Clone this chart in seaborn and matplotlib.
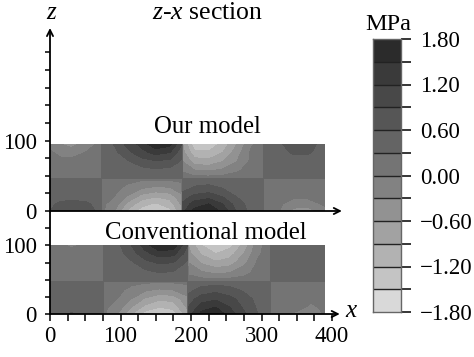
"""
Stress in the z-x section, our model against the conventional model,
drawn as two banded contour maps that share a 12 band grey scale.
"""

import numpy as np
import matplotlib
matplotlib.use("Agg")
import matplotlib.pyplot as plt
import seaborn as sns

from matplotlib.colors import ListedColormap


FIG_W = 474
FIG_H = 357

# band limits and greys, from -1.80 MPa (light) up to 1.80 MPa (dark)
BAND_LIMITS = [-1.8, -1.5, -1.2, -0.9, -0.6, -0.3, 0.0, 0.3, 0.6, 0.9, 1.2, 1.5, 1.8]
BAND_GREYS = ["#d9d9d9", "#c4c4c4", "#b2b2b2", "#a2a2a2", "#929292", "#828282",
              "#747474", "#646464", "#565656", "#484848", "#3a3a3a", "#2b2b2b"]
SCALE_LABELS = ["1.80", "", "1.20", "", "0.60", "", "0.00", "", "\u22120.60", "",
                "\u22121.20", "", "\u22121.80"]

X_TICK_LABELS = ["0", "", "", "", "100", "", "", "", "200", "", "", "", "300", "", "", "", "400"]

# our model, rows run from the top of the section downwards
OUR_X = [0, 15, 30, 50, 73, 74, 90, 110, 130, 150, 170, 187, 188,
         205, 225, 245, 265, 285, 302, 303, 325, 345, 365, 390]
OUR_Z = [95, 83, 70, 58, 46, 45, 32, 20, 10, 0]
OUR_STRESS = [
    [-0.1, -0.3, -0.4, -0.2, 0.1, 0.45, 0.6, 1.0, 1.3, 1.75, 1.6, 0.9, -0.6, -1.45, -1.45, -1.1, -0.6, -0.05, 0.15, 0.45, 0.55, 0.75, 0.75, 0.45],
    [0.05, -0.1, -0.15, 0.0, 0.1, 0.45, 0.5, 0.8, 1.1, 1.3, 1.2, 0.7, -0.5, -1.1, -1.15, -0.9, -0.45, 0.05, 0.15, 0.45, 0.45, 0.65, 0.65, 0.45],
    [0.1, 0.1, 0.1, 0.1, 0.1, 0.45, 0.45, 0.55, 0.75, 0.85, 0.8, 0.55, -0.3, -0.75, -0.8, -0.6, -0.3, 0.05, 0.15, 0.45, 0.45, 0.45, 0.45, 0.45],
    [0.1, 0.1, 0.1, 0.1, 0.1, 0.45, 0.45, 0.45, 0.5, 0.55, 0.5, 0.45, -0.05, -0.3, -0.35, -0.25, -0.05, 0.12, 0.15, 0.45, 0.45, 0.45, 0.45, 0.45],
    [0.1, 0.1, 0.1, 0.1, 0.1, 0.45, 0.45, 0.45, 0.45, 0.45, 0.45, 0.45, 0.15, 0.15, 0.15, 0.15, 0.15, 0.15, 0.15, 0.45, 0.45, 0.45, 0.45, 0.45],
    [0.5, 0.5, 0.5, 0.5, 0.5, 0.05, 0.05, 0.05, 0.05, 0.05, 0.05, 0.05, 0.45, 0.45, 0.45, 0.45, 0.45, 0.45, 0.45, 0.05, 0.05, 0.05, 0.05, 0.05],
    [0.5, 0.5, 0.5, 0.5, 0.5, 0.05, 0.05, -0.05, -0.3, -0.4, -0.35, -0.1, 0.5, 0.65, 0.7, 0.6, 0.5, 0.45, 0.45, 0.05, 0.05, 0.05, 0.05, 0.05],
    [0.5, 0.5, 0.5, 0.5, 0.5, 0.05, 0.0, -0.35, -0.75, -0.9, -0.8, -0.4, 0.75, 1.0, 1.1, 0.9, 0.6, 0.45, 0.45, 0.05, 0.05, 0.05, 0.05, 0.05],
    [0.55, 0.65, 0.7, 0.65, 0.5, 0.05, -0.1, -0.7, -1.1, -1.25, -1.05, -0.55, 0.95, 1.35, 1.5, 1.2, 0.75, 0.47, 0.45, 0.05, 0.05, -0.15, -0.15, 0.05],
    [0.6, 0.75, 0.85, 0.75, 0.5, 0.05, -0.25, -0.95, -1.35, -1.6, -1.3, -0.7, 1.1, 1.6, 1.8, 1.4, 0.85, 0.5, 0.45, 0.05, 0.0, -0.4, -0.5, -0.1],
]

# conventional model, same layout
CONV_X = [0, 15, 30, 50, 75, 76, 95, 115, 135, 155, 175, 195, 196,
          215, 235, 255, 275, 295, 312, 313, 335, 355, 370, 390]
CONV_Z = [100, 88, 75, 60, 48, 47, 35, 22, 10, 0]
CONV_STRESS = [
    [0.1, 0.05, -0.05, 0.05, 0.1, 0.4, 0.5, 0.9, 1.35, 1.8, 1.7, 0.9, -0.6, -1.2, -1.5, -1.3, -0.8, -0.1, 0.15, 0.45, 0.45, 0.5, 0.55, 0.45],
    [0.1, 0.1, 0.1, 0.1, 0.1, 0.4, 0.45, 0.75, 1.1, 1.35, 1.3, 0.75, -0.5, -0.95, -1.2, -1.05, -0.6, -0.05, 0.15, 0.45, 0.45, 0.45, 0.45, 0.45],
    [0.1, 0.1, 0.1, 0.1, 0.1, 0.4, 0.4, 0.55, 0.8, 0.95, 0.9, 0.55, -0.3, -0.65, -0.85, -0.75, -0.4, 0.05, 0.15, 0.45, 0.45, 0.45, 0.45, 0.45],
    [0.1, 0.1, 0.1, 0.1, 0.1, 0.4, 0.4, 0.4, 0.5, 0.6, 0.55, 0.4, -0.05, -0.25, -0.35, -0.3, -0.1, 0.1, 0.15, 0.45, 0.45, 0.45, 0.45, 0.45],
    [0.1, 0.1, 0.1, 0.1, 0.1, 0.4, 0.4, 0.4, 0.4, 0.4, 0.4, 0.4, 0.15, 0.15, 0.15, 0.15, 0.15, 0.15, 0.15, 0.45, 0.45, 0.45, 0.45, 0.45],
    [0.4, 0.4, 0.4, 0.4, 0.4, 0.05, 0.05, 0.05, 0.05, 0.05, 0.05, 0.05, 0.45, 0.45, 0.45, 0.45, 0.45, 0.45, 0.45, 0.05, 0.05, 0.05, 0.05, 0.05],
    [0.4, 0.4, 0.4, 0.4, 0.4, 0.05, 0.05, -0.05, -0.25, -0.35, -0.3, -0.1, 0.5, 0.7, 0.8, 0.7, 0.55, 0.47, 0.45, 0.05, 0.05, 0.05, 0.05, 0.05],
    [0.4, 0.4, 0.4, 0.4, 0.4, 0.05, 0.0, -0.3, -0.65, -0.85, -0.8, -0.4, 0.75, 1.05, 1.15, 1.0, 0.75, 0.5, 0.45, 0.05, 0.05, 0.05, 0.05, 0.05],
    [0.4, 0.4, 0.45, 0.4, 0.4, 0.05, -0.1, -0.6, -1.0, -1.2, -1.1, -0.55, 0.9, 1.35, 1.5, 1.2, 0.85, 0.55, 0.45, 0.05, 0.05, 0.05, -0.05, 0.05],
    [0.4, 0.45, 0.65, 0.45, 0.4, 0.05, -0.3, -0.9, -1.35, -1.6, -1.4, -0.7, 1.05, 1.6, 1.75, 1.35, 0.95, 0.6, 0.45, 0.05, 0.05, -0.1, -0.3, 0.05],
]


def pixel_axes(fig, left, top, right, bottom):
    return fig.add_axes([left / FIG_W, 1 - bottom / FIG_H,
                         (right - left) / FIG_W, (bottom - top) / FIG_H])


def pixel_text(fig, x, y, label, **kwargs):
    fig.text(x / FIG_W, 1 - y / FIG_H, label, ha="center", va="center", color="black", **kwargs)


def draw_section(ax, xs, zs, stress):
    ax.contourf(xs, zs, np.array(stress), levels=BAND_LIMITS, colors=BAND_GREYS)
    ax.set_xlim(0, 400)
    ax.patch.set_alpha(0)
    for side in ["top", "right", "bottom"]:
        ax.spines[side].set_visible(False)
    ax.spines["left"].set_linewidth(1.3)
    ax.spines["left"].set_color("black")


def draw_arrow(ax, start, end):
    ax.annotate("", xy=end, xytext=start, annotation_clip=False,
                arrowprops=dict(arrowstyle="->", color="black", lw=1.3,
                                shrinkA=0, shrinkB=0, mutation_scale=11))


sns.set_theme(style="ticks")
plt.rcParams["font.family"] = ["Liberation Serif", "DejaVu Serif"]
plt.rcParams["mathtext.fontset"] = "custom"
plt.rcParams["mathtext.it"] = "Liberation Serif:italic"
plt.rcParams["mathtext.rm"] = "Liberation Serif"

TICK_STYLE = dict(color="black", width=1.1, labelsize=16.5, labelcolor="black")

fig = plt.figure(figsize=(FIG_W / 100, FIG_H / 100), dpi=100)

ax_low = pixel_axes(fig, 50, 211, 332, 314)
ax_up = pixel_axes(fig, 50, 28, 332, 211)

draw_section(ax_low, CONV_X, CONV_Z, CONV_STRESS)
draw_section(ax_up, OUR_X, OUR_Z, OUR_STRESS)

ax_low.set_ylim(0, 150)
ax_up.set_ylim(0, 259.6)

ax_low.set_xticks(np.arange(0, 401, 25))
ax_low.set_xticklabels(X_TICK_LABELS)
ax_low.set_yticks(np.arange(0, 126, 25))
ax_low.set_yticklabels(["0", "", "", "", "100", ""])
ax_low.tick_params(axis="x", direction="out", length=5, pad=3.5, **TICK_STYLE)
ax_low.tick_params(axis="y", direction="out", length=3.6, pad=6, **TICK_STYLE)

ax_up.set_xticks([])
ax_up.set_yticks(np.arange(0, 226, 25))
ax_up.set_yticklabels(["0", "", "", "", "100", "", "", "", "", ""])
ax_up.tick_params(axis="y", direction="out", length=3.6, pad=6, **TICK_STYLE)

ax_up.spines["left"].set_visible(False)
draw_arrow(ax_up, (0, -1), (0, 259.6))
draw_arrow(ax_up, (0, 0), (414, 0))
draw_arrow(ax_low, (0, 0), (411, 0))

# grey scale on the right, darkest band on top
ax_scale = pixel_axes(fig, 373, 39, 401, 312)
band_mids = [[(low + high) / 2] for low, high in zip(BAND_LIMITS[:-1], BAND_LIMITS[1:])][::-1]
sns.heatmap(band_mids, ax=ax_scale, cmap=ListedColormap(BAND_GREYS), vmin=-1.8, vmax=1.8,
            cbar=False, xticklabels=False, linewidths=0)
ax_scale.hlines(range(1, 12), 0, 1, color="#222222", lw=1.0)
ax_scale.yaxis.tick_right()
ax_scale.set_yticks(range(13))
ax_scale.set_yticklabels(SCALE_LABELS, rotation=0, ha="left")
ax_scale.tick_params(axis="y", direction="out", length=7, pad=6.5, **TICK_STYLE)
for spine in ax_scale.spines.values():
    spine.set_visible(True)
    spine.set_color("#666666")
    spine.set_linewidth(1.0)

pixel_text(fig, 52, 13, "$z$", fontsize=18)
pixel_text(fig, 208, 13, "$z$-$x$ section", fontsize=18.5)
pixel_text(fig, 207, 127, "Our model", fontsize=17.8)
pixel_text(fig, 206, 233, "Conventional model", fontsize=17.8)
pixel_text(fig, 352, 311, "$x$", fontsize=18)
pixel_text(fig, 388, 24, "MPa", fontsize=17.5)

fig.savefig("out.png", dpi=100)
